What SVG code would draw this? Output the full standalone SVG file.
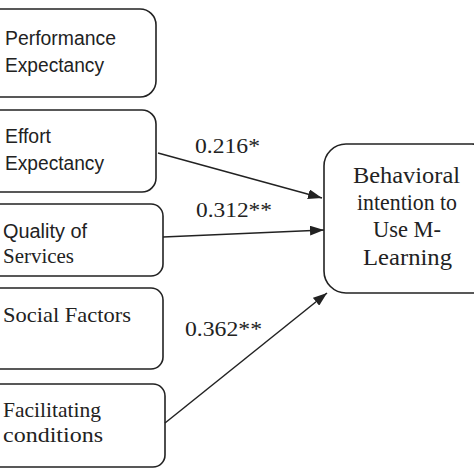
<svg xmlns="http://www.w3.org/2000/svg" width="474" height="474" viewBox="0 0 474 474">
<defs>
<style>
.box{fill:#fff;stroke:#222;stroke-width:1.6}
.sans{font-family:"Liberation Sans",Arial,sans-serif;font-size:19.5px;fill:#222}
.serif{font-family:"Liberation Serif","Times New Roman",serif;font-size:21px;fill:#222}
.tgt{font-family:"Liberation Serif","Times New Roman",serif;font-size:22.5px;fill:#222}
.lbl{font-family:"Liberation Serif","Times New Roman",serif;font-size:20px;fill:#222}
.conn{stroke:#222;stroke-width:1.5;fill:none;marker-end:url(#ah)}
</style>
<marker id="ah" viewBox="0 0 14 10" refX="14" refY="5" markerWidth="14" markerHeight="10" markerUnits="userSpaceOnUse" orient="auto">
<path d="M0,0 L14,5 L0,10 z" fill="#222"/>
</marker>
</defs>
<rect width="474" height="474" fill="#fff"/>
<g id="n1"><rect class="box" x="-20" y="9" width="176" height="88" rx="16"/>
<text class="sans" x="5" y="45" textLength="111" lengthAdjust="spacingAndGlyphs">Performance</text><text class="sans" x="5" y="72" textLength="99" lengthAdjust="spacingAndGlyphs">Expectancy</text></g>
<g id="n2"><rect class="box" x="-20" y="110" width="176" height="82" rx="14"/>
<text class="sans" x="5" y="143" textLength="46" lengthAdjust="spacingAndGlyphs">Effort</text><text class="sans" x="5" y="170" textLength="99" lengthAdjust="spacingAndGlyphs">Expectancy</text></g>
<g id="n3"><rect class="box" x="-20" y="204" width="183" height="72" rx="12"/>
<text class="sans" x="3" y="238" textLength="84" lengthAdjust="spacingAndGlyphs">Quality of</text><text class="serif" x="3" y="263" textLength="71" lengthAdjust="spacingAndGlyphs">Services</text></g>
<g id="n4"><rect class="box" x="-20" y="288" width="183" height="81" rx="12"/>
<text class="serif" x="3" y="322" textLength="128" lengthAdjust="spacingAndGlyphs">Social Factors</text></g>
<g id="n5"><rect class="box" x="-20" y="384" width="185" height="83" rx="12"/>
<text class="serif" x="3" y="417" textLength="98" lengthAdjust="spacingAndGlyphs">Facilitating</text><text class="serif" x="3" y="442" textLength="100" lengthAdjust="spacingAndGlyphs">conditions</text></g>
<g id="target"><rect class="box" x="324" y="144" width="170" height="149" rx="22"/>
<text class="tgt" x="353" y="183" textLength="107" lengthAdjust="spacingAndGlyphs">Behavioral</text>
<text class="tgt" x="357" y="210" textLength="100" lengthAdjust="spacingAndGlyphs">intention to</text>
<text class="tgt" x="373" y="237" textLength="68" lengthAdjust="spacingAndGlyphs">Use M-</text>
<text class="tgt" x="363" y="265" textLength="89" lengthAdjust="spacingAndGlyphs">Learning</text></g>
<g id="connectors">
<line class="conn" x1="158" y1="153" x2="322" y2="198"/>
<line class="conn" x1="163" y1="237" x2="324" y2="230"/>
<line class="conn" x1="165" y1="423" x2="327" y2="293"/>
<text class="lbl" x="195" y="153" textLength="65" lengthAdjust="spacingAndGlyphs">0.216*</text>
<text class="lbl" x="196" y="217" textLength="76" lengthAdjust="spacingAndGlyphs">0.312**</text>
<text class="lbl" x="185" y="336" textLength="77" lengthAdjust="spacingAndGlyphs">0.362**</text>
</g>
</svg>
